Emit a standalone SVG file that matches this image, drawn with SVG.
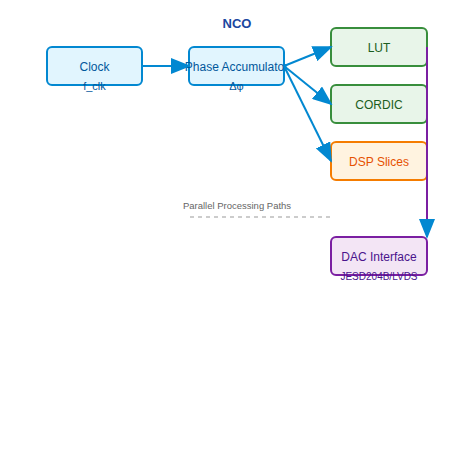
<svg xmlns="http://www.w3.org/2000/svg" width="474" height="474" viewBox="0 0 474 474">
<style>
text{font-family:"Liberation Sans",Arial,sans-serif;text-anchor:middle}
.lbl{font-size:12px}
.sub{font-size:11px}
.blue rect{fill:#e1f5fe;stroke:#0288d1;stroke-width:2}
.blue text{fill:#01579b}
.green rect{fill:#e8f5e9;stroke:#388e3c;stroke-width:2}
.green text{fill:#1b5e20}
.orange rect{fill:#fff3e0;stroke:#f57c00;stroke-width:2}
.orange text{fill:#e65100}
.purple rect{fill:#f3e5f5;stroke:#7b1fa2;stroke-width:2}
.purple text{fill:#4a148c}
.conn{stroke:#0288d1;stroke-width:2;fill:none}
</style>
<defs>
<marker id="ah" markerWidth="10" markerHeight="8" refX="9" refY="4" orient="auto" markerUnits="strokeWidth">
<path d="M0,0 L10,4 L0,8 Z" fill="#0288d1"/>
</marker>
</defs>
<rect width="474" height="474" fill="#ffffff"/>
<text x="237" y="28" style="font-size:13px;font-weight:bold;fill:#1a47a0">NCO</text>
<g id="clock" class="blue">
<rect x="47" y="47" width="95" height="38" rx="5"/>
<text class="lbl" x="94.5" y="71">Clock</text>
<text class="sub" x="94.5" y="90">f_clk</text>
</g>
<g id="phase" class="blue">
<rect x="189" y="47" width="95" height="38" rx="5"/>
<text class="lbl" x="236.5" y="71">Phase Accumulator</text>
<text class="sub" x="236.5" y="90">Δφ</text>
</g>
<g id="lut" class="green">
<rect x="331" y="28" width="96" height="38" rx="5"/>
<text class="lbl" x="379" y="52">LUT</text>
</g>
<g id="cordic" class="green">
<rect x="331" y="85" width="96" height="38" rx="5"/>
<text class="lbl" x="379" y="109">CORDIC</text>
</g>
<g id="dsp" class="orange">
<rect x="331" y="142" width="96" height="38" rx="5"/>
<text class="lbl" x="379" y="166">DSP Slices</text>
</g>
<g id="dac" class="purple">
<rect x="331" y="237" width="96" height="38" rx="5"/>
<text class="lbl" x="379" y="261">DAC Interface</text>
<text style="font-size:10px" x="379" y="280">JESD204B/LVDS</text>
</g>
<g id="note">
<text x="237" y="209" style="font-size:9.5px;fill:#666666">Parallel Processing Paths</text>
<line x1="190" y1="217" x2="330" y2="217" stroke="#999999" stroke-width="1" stroke-dasharray="4,4"/>
</g>
<g id="connectors">
<line class="conn" x1="142" y1="66" x2="189" y2="66" marker-end="url(#ah)"/>
<line class="conn" x1="284" y1="66" x2="331" y2="47" marker-end="url(#ah)"/>
<line class="conn" x1="284" y1="66" x2="331" y2="104" marker-end="url(#ah)"/>
<line class="conn" x1="284" y1="66" x2="331" y2="161" marker-end="url(#ah)"/>
<line x1="427" y1="47" x2="427" y2="225" stroke="#7b1fa2" stroke-width="2"/>
<line class="conn" x1="427" y1="222" x2="427" y2="237" marker-end="url(#ah)"/>
</g>
</svg>
